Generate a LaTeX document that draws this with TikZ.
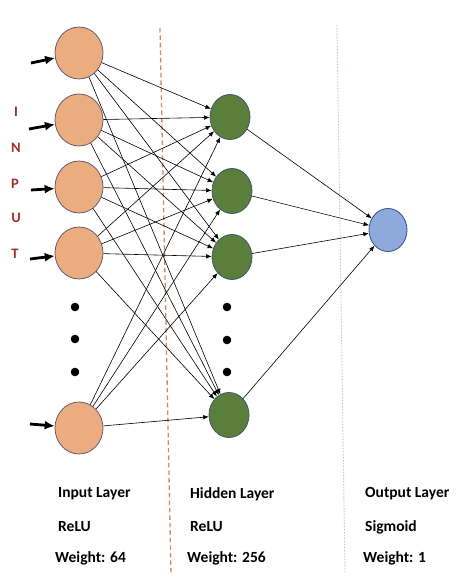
\documentclass[tikz,border=0pt]{standalone}
\usepackage{fontspec}
\setmainfont{Carlito}
\usepackage{tikz}
\usetikzlibrary{shapes.geometric,arrows.meta}

\definecolor{inpfill}{HTML}{EBAD80}
\definecolor{inpline}{HTML}{6A5A70}
\definecolor{hidfill}{HTML}{5A7F3A}
\definecolor{hidline}{HTML}{44546A}
\definecolor{outfill}{HTML}{8EA9DB}
\definecolor{outline}{HTML}{2F4F8F}
\definecolor{letter}{HTML}{A0302A}
\definecolor{sepa}{HTML}{C09070}
\definecolor{sepb}{HTML}{D8BCA8}

\begin{document}
\begin{tikzpicture}[x=1pt,y=-1pt,>={Latex[length=5.5pt,width=4.5pt]}]
	\tikzstyle{inp}=[ellipse,minimum width=48pt,minimum height=52pt,inner sep=0pt,draw=inpline,fill=inpfill,line width=0.8pt]
	\tikzstyle{hid}=[ellipse,minimum width=40pt,minimum height=45pt,inner sep=0pt,draw=hidline,fill=hidfill,line width=0.8pt]
	\tikzstyle{outp}=[ellipse,minimum width=38pt,minimum height=43pt,inner sep=0pt,draw=outline,fill=outfill,line width=0.8pt]
	\tikzstyle{wire}=[->,line width=0.6pt]
	\tikzstyle{feed}=[-{Latex[length=10pt,width=9pt]},line width=2.8pt]
	\tikzstyle{lab}=[anchor=west,inner sep=0pt,font=\fontsize{15.5pt}{15.5pt}\bfseries]
	\tikzstyle{ltr}=[text=letter,font=\fontsize{14.5pt}{14.5pt}\bfseries]

	\useasboundingbox (0,0) rectangle (474,580);

	% layer separators
	\draw[sepa,line width=1.3pt,dash pattern=on 4.5pt off 3pt] (160,28) -- (171,575);
	\draw[sepb,line width=0.9pt,dash pattern=on 1.5pt off 1.5pt] (337,25) -- (345,572);

	\node[ltr] (LI) at (16,112) {I};
	\node[ltr] (LN) at (16,148) {N};
	\node[ltr] (LP) at (15,184) {P};
	\node[ltr] (LU) at (16,218) {U};
	\node[ltr] (LT) at (15,254) {T};

	\node[inp] (I1) at (79,53) {};
	\node[inp] (I2) at (79,120) {};
	\node[inp] (I3) at (79,187) {};
	\node[inp] (I4) at (79,253) {};
	\node[inp] (I5) at (79,428) {};

	\node[hid] (H1) at (230,117) {};
	\node[hid] (H2) at (232,191) {};
	\node[hid] (H3) at (232,257) {};
	\node[hid] (H4) at (229,415) {};

	\node[outp] (O) at (388,230) {};

	\fill (75,307) circle (4.3pt);
	\fill (75,339) circle (4.3pt);
	\fill (75,372) circle (4.3pt);
	\fill (227,307) circle (4.3pt);
	\fill (227,340) circle (4.3pt);
	\fill (227,372) circle (4.3pt);

	\coordinate (A1) at (31,63);
	\coordinate (A2) at (29,129);
	\coordinate (A3) at (31,190);
	\coordinate (A4) at (30,259);
	\coordinate (A5) at (30,424);
	\draw[feed] (A1) -- (I1);
	\draw[feed] (A2) -- (I2);
	\draw[feed] (A3) -- (I3);
	\draw[feed] (A4) -- (I4);
	\draw[feed] (A5) -- (I5);

	\path (I1) edge[wire] (H1);
	\path (I1) edge[wire] (H2);
	\path (I1) edge[wire] (H3);
	\path (I1) edge[wire] (H4);
	\path (I2) edge[wire] (H1);
	\path (I2) edge[wire] (H2);
	\path (I2) edge[wire] (H3);
	\path (I2) edge[wire] (H4);
	\path (I3) edge[wire] (H1);
	\path (I3) edge[wire] (H2);
	\path (I3) edge[wire] (H3);
	\path (I3) edge[wire] (H4);
	\path (I4) edge[wire] (H1);
	\path (I4) edge[wire] (H2);
	\path (I4) edge[wire] (H3);
	\path (I4) edge[wire] (H4);
	\path (I5) edge[wire] (H1);
	\path (I5) edge[wire] (H2);
	\path (I5) edge[wire] (H3);
	\path (I5) edge[wire] (H4);

	\path (H1) edge[wire] (O);
	\path (H2) edge[wire] (O);
	\path (H3) edge[wire] (O);
	\path (H4) edge[wire] (O);

	\node[lab] (T1) at (58,494) {Input Layer};
	\node[lab] (T2) at (58,527) {ReLU};
	\node[lab] (T3) at (55,558) {Weight: 64};
	\node[lab] (T4) at (190,494) {Hidden Layer};
	\node[lab] (T5) at (190,527) {ReLU};
	\node[lab] (T6) at (187,558) {Weight: 256};
	\node[lab] (T7) at (365,494) {Output Layer};
	\node[lab] (T8) at (365,527) {Sigmoid};
	\node[lab] (T9) at (363,558) {Weight: 1};
\end{tikzpicture}
\end{document}
